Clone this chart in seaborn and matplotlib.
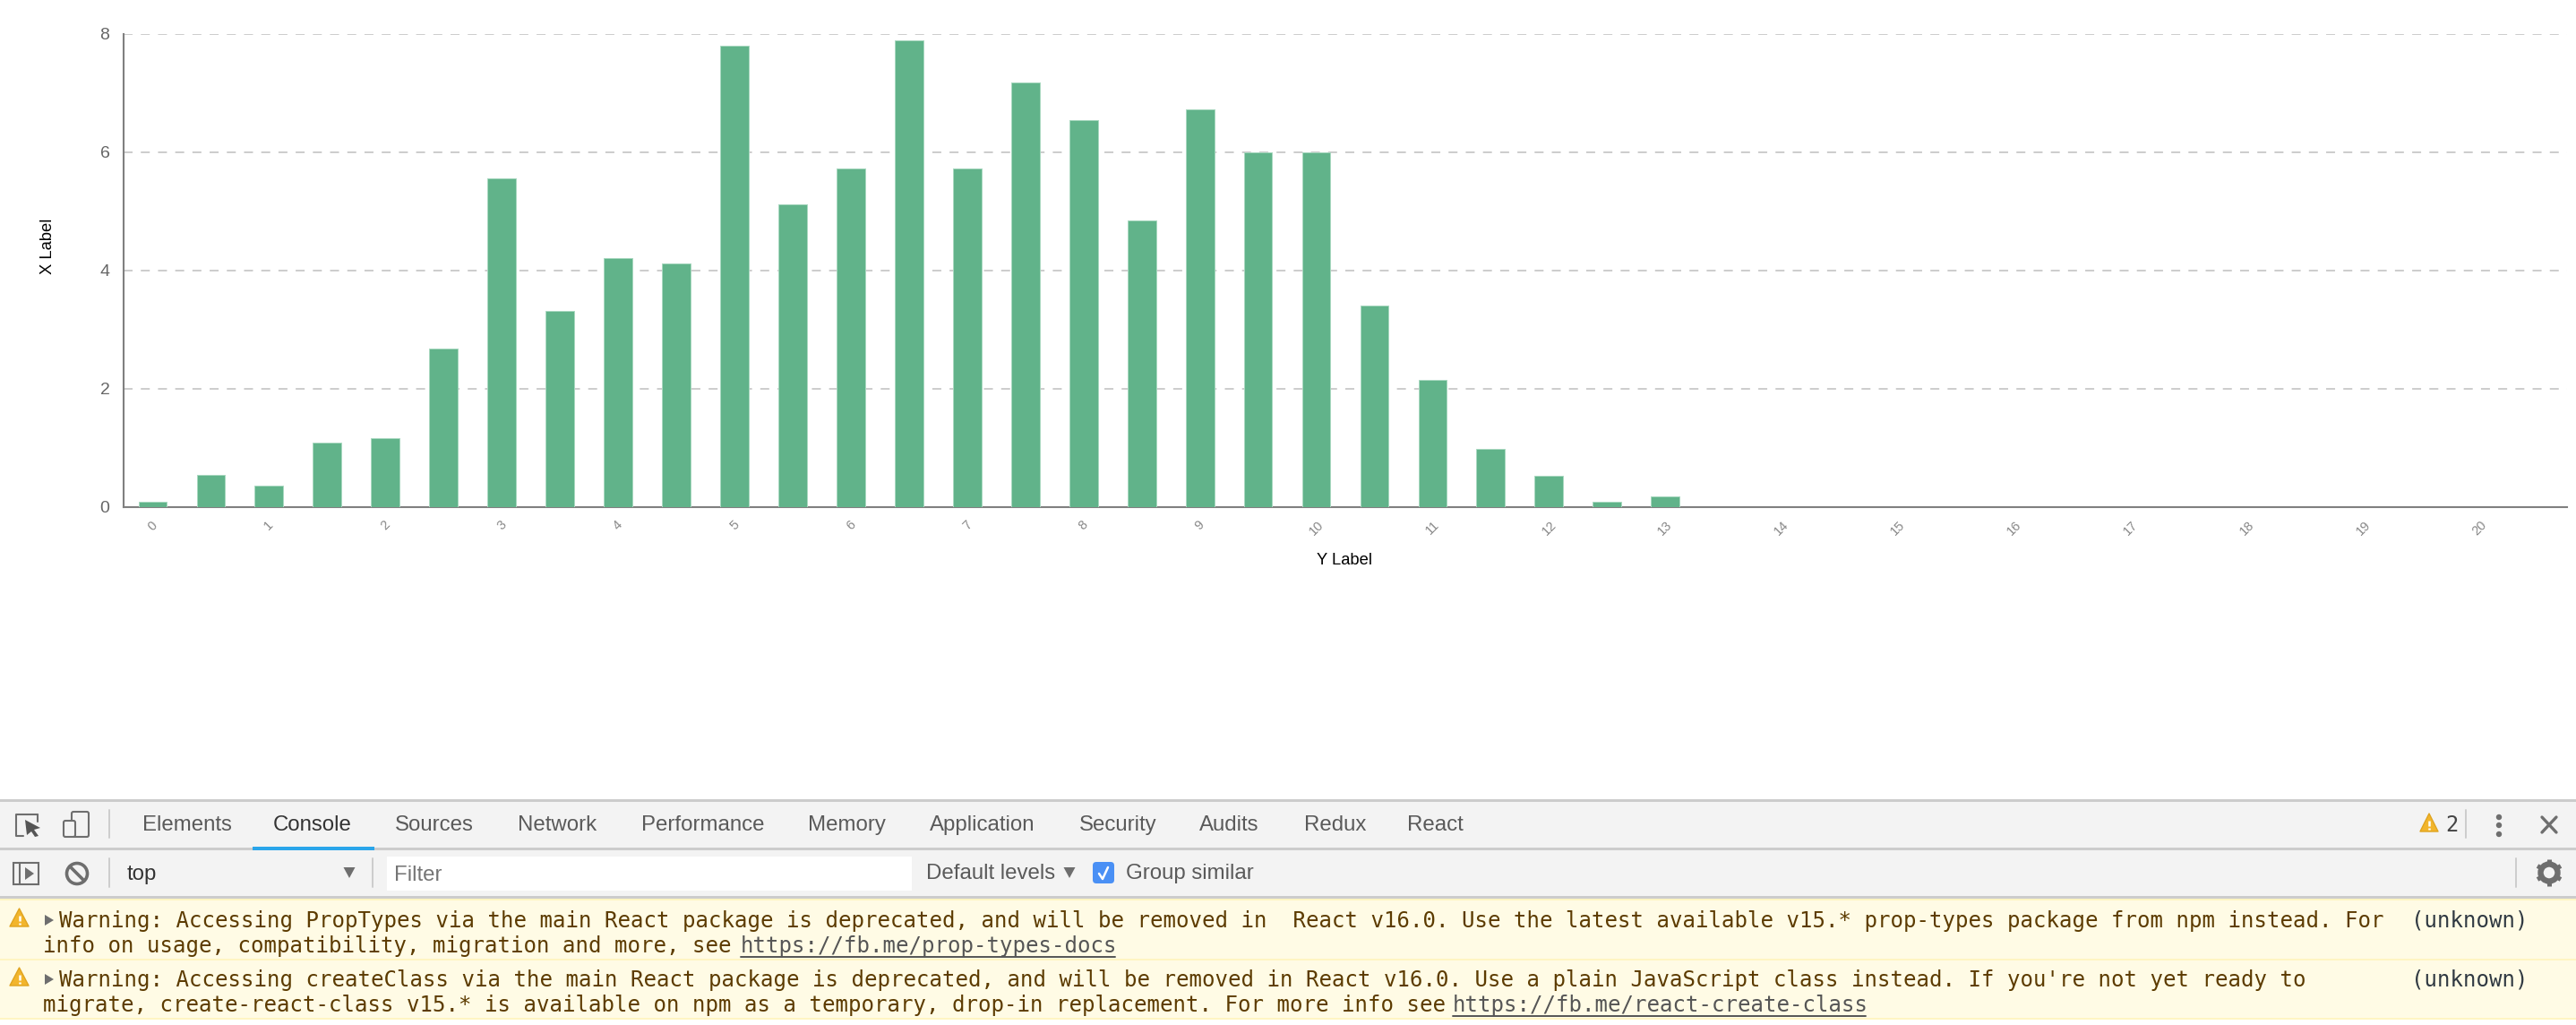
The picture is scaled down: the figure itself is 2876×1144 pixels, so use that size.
import numpy as np
import pandas as pd
import matplotlib
matplotlib.use("Agg")
import matplotlib.pyplot as plt
from matplotlib.patches import Rectangle, Polygon, Circle, FancyBboxPatch
import seaborn as sns

W, H = 2876, 1144
DPI = 100

categories = [f"{i/2:g}" for i in range(42)]
values = [0.09, 0.54, 0.36, 1.08, 1.16, 2.68, 5.55, 3.32, 4.21, 4.12, 7.80, 5.11, 5.73, 7.89,
          5.73, 7.17, 6.54, 4.84, 6.72, 6.00, 6.00, 3.40, 2.15, 0.98, 0.53, 0.09, 0.18,
          0, 0, 0, 0, 0, 0, 0, 0, 0, 0, 0, 0, 0, 0, 0]
tick_labels = [str(i) for i in range(21)]
y_ticks = [0, 2, 4, 6, 8]

tabs = [("Elements", 159), ("Console", 305), ("Sources", 441), ("Network", 578), ("Performance", 716),
        ("Memory", 902), ("Application", 1038), ("Security", 1205), ("Audits", 1339), ("Redux", 1456),
        ("React", 1571)]
console_lines = [
    ("Warning: Accessing PropTypes via the main React package is deprecated, and will be removed in  React v16.0. Use the latest available v15.* prop-types package from npm instead. For", 66, 1028),
    ("info on usage, compatibility, migration and more, see ", 48, 1056),
    ("Warning: Accessing createClass via the main React package is deprecated, and will be removed in React v16.0. Use a plain JavaScript class instead. If you're not yet ready to", 66, 1094),
    ("migrate, create-react-class v15.* is available on npm as a temporary, drop-in replacement. For more info see ", 48, 1122),
]
links = [("https://fb.me/prop-types-docs", 827), ("https://fb.me/react-create-class", 1622)]

sns.set_style("white")
plt.rcParams["font.family"] = ["Liberation Sans", "DejaVu Sans"]

fig = plt.figure(figsize=(W / DPI, H / DPI), dpi=DPI, facecolor="white")
ax_left, ax_right, ax_top, ax_bot = 138, 2866, 37.7, 565.7
ax = fig.add_axes([ax_left / W, 1 - ax_bot / H, (ax_right - ax_left) / W, (ax_bot - ax_top) / H])

df = pd.DataFrame({"x": categories, "y": values})
sns.barplot(data=df, x="x", y="y", order=categories, color="#61b38a", saturation=1, width=0.49,
            edgecolor="#a9d8c0", linewidth=0.7, ax=ax, zorder=3)
ax.set_xlim(-0.5, 41.5)
ax.set_ylim(0, 8)
ax.set_yticks(y_ticks)
ax.set_xticks(range(0, 42, 2))
ax.set_xticklabels(tick_labels, rotation=45, ha="center", fontsize=10.5, color="#888888")
ax.tick_params(axis="x", length=6.5, width=1.4, color="#808080", pad=3)
ax.tick_params(axis="y", length=7.2, width=1.4, color="#808080", pad=4, labelsize=14, labelcolor="#666666")
ax.set_xlabel("")
ax.set_ylabel("")
ax.yaxis.grid(True, color="#cccccc", lw=1.4, linestyle=(0, (5.14, 4.74)))
ax.xaxis.grid(False)
ax.set_axisbelow(True)
for s in ["top", "right"]:
    ax.spines[s].set_visible(False)
for s in ["left", "bottom"]:
    ax.spines[s].set_color("#808080")
    ax.spines[s].set_linewidth(1.5)

# overlay in pixel coordinates for axis titles and the browser panel
ov = fig.add_axes([0, 0, 1, 1], facecolor="none")
ov.set_xlim(0, W)
ov.set_ylim(H, 0)
ov.axis("off")

ov.text(53, 275, "X Label", rotation=90, ha="center", va="center", fontsize=13.2, color="black")
ov.text(1501, 626, "Y Label", ha="center", va="center", fontsize=13.2, color="black")

def rect(x0, y0, x1, y1, c, z=1):
    ov.add_patch(Rectangle((x0, y0), x1 - x0, y1 - y0, facecolor=c, edgecolor="none", zorder=z))

def warn(x0, x1, y0, y1):
    ov.add_patch(Polygon([[(x0 + x1) / 2, y0], [x1, y1], [x0, y1]], closed=True, facecolor="#f2b52c",
                         edgecolor="#e0a420", lw=1, joinstyle="round", zorder=3))
    cx = (x0 + x1) / 2
    ov.plot([cx, cx], [y0 + (y1 - y0) * .38, y0 + (y1 - y0) * .72], color="white", lw=1.8, zorder=4, solid_capstyle="butt")
    ov.plot([cx, cx], [y0 + (y1 - y0) * .80, y0 + (y1 - y0) * .90], color="white", lw=1.8, zorder=4, solid_capstyle="butt")

# panel backgrounds
rect(0, 892, W, 1001, "#f3f3f3")
rect(0, 892, W, 894.5, "#cccccc", 2)
rect(0, 946, W, 948.5, "#cccccc", 2)
rect(0, 1000, W, 1002.5, "#cccccc", 2)
rect(0, 1003, W, 1137, "#fffbe5")
rect(0, 1003, W, 1005, "#fff5c2", 2)
rect(0, 1070, W, 1072, "#fff5c2", 2)
rect(0, 1136, W, 1138, "#fff5c2", 2)
rect(282, 945, 418, 948.5, "#2aa5ea", 3)
rect(432, 956, 1018, 994, "white", 2)

# separators
for x, y0, y1 in [(122, 904, 935), (122, 958, 990), (416, 958, 990), (2753, 904, 935), (2809, 958, 990)]:
    ov.plot([x, x], [y0, y1], color="#cccccc", lw=1.4, zorder=3)

# tabs
for name, x in tabs:
    ov.text(x, 921, name, ha="left", va="center", fontsize=17.3,
            color="#333333" if name == "Console" else "#5a5a5a", zorder=4)

# toolbar text
ov.text(142, 976, "top", ha="left", va="center", fontsize=17.3, color="#333333", zorder=4)
ov.text(440, 977, "Filter", ha="left", va="center", fontsize=17.3, color="#757575", zorder=4)
ov.text(1034, 975, "Default levels", ha="left", va="center", fontsize=17.3, color="#5a5a5a", zorder=4)
ov.text(1257, 975, "Group similar", ha="left", va="center", fontsize=17.3, color="#5a5a5a", zorder=4)
for cx in (390, 1194):
    ov.add_patch(Polygon([[cx - 6.5, 968], [cx + 6.5, 968], [cx, 980]], closed=True, facecolor="#6e6e6e", edgecolor="none", zorder=4))

# checkbox
ov.add_patch(FancyBboxPatch((1222, 964), 20, 20, boxstyle="round,pad=2,rounding_size=4", facecolor="#4a90f5", edgecolor="none", zorder=4))
ov.plot([1227, 1231, 1237], [975, 981, 968], color="white", lw=1.8, zorder=5)

# inspect icon
ic = "#6e6e6e"
ov.plot([30, 18, 18, 26], [909, 909, 933, 933], color=ic, lw=1.5, zorder=4)
ov.plot([42, 42], [909, 917], color=ic, lw=1.5, zorder=4)
ov.plot([30, 42], [909, 909], color=ic, lw=1.5, zorder=4)
ov.add_patch(Polygon([[28, 915], [45, 924], [38, 926], [43, 933], [39, 934], [35, 928], [30, 932]], closed=True, facecolor="#555555", edgecolor="none", zorder=5))
# device icon
ov.add_patch(FancyBboxPatch((80, 906), 19, 28, boxstyle="round,pad=0,rounding_size=2", facecolor="none", edgecolor=ic, lw=1.5, zorder=4))
ov.add_patch(FancyBboxPatch((71, 916), 13, 18, boxstyle="round,pad=0,rounding_size=2", facecolor="#f3f3f3", edgecolor=ic, lw=1.5, zorder=5))
# sidebar toggle
ov.add_patch(Rectangle((15, 963), 28, 24, facecolor="none", edgecolor=ic, lw=1.5, zorder=4))
ov.plot([22, 22], [963, 987], color=ic, lw=1.5, zorder=4)
ov.add_patch(Polygon([[28, 968], [38, 975], [28, 982]], closed=True, facecolor=ic, edgecolor="none", zorder=4))
# clear icon
ov.add_patch(Circle((86, 975), 11.5, facecolor="none", edgecolor=ic, lw=2.6, zorder=4))
ov.plot([78, 94], [967, 983], color=ic, lw=2.6, zorder=4)

# right-hand icons
warn(2702, 2722, 908, 928)
ov.text(2730, 921, "2", ha="left", va="center", fontsize=17, color="#444444", family="DejaVu Sans Mono", zorder=4)
for y in (912, 921, 931):
    ov.add_patch(Circle((2790, y), 3.2, facecolor=ic, edgecolor="none", zorder=4))
ov.plot([2838, 2854], [912, 929], color=ic, lw=2.4, zorder=4)
ov.plot([2854, 2838], [912, 929], color=ic, lw=2.4, zorder=4)
# gear
ov.add_patch(Circle((2846, 974), 9.5, facecolor="none", edgecolor=ic, lw=4.6, zorder=4))
for a in np.deg2rad(np.arange(0, 360, 60) + 30):
    ov.plot([2846 + 11 * np.cos(a), 2846 + 15 * np.cos(a)], [974 + 11 * np.sin(a), 974 + 15 * np.sin(a)],
            color=ic, lw=3.6, zorder=4, solid_capstyle="butt")

# console
mono = "DejaVu Sans Mono"
txt = "#5c3b00"
for s, x, y in console_lines:
    ov.text(x, y, s, ha="left", va="center", fontsize=17.25, family=mono, color=txt, zorder=4)
for (s, x, y), (link, x0) in zip([console_lines[1], console_lines[3]], links):
    ov.text(x0, y, link, ha="left", va="center", fontsize=17.25, family=mono, color="#555555", zorder=4)
    ov.plot([x0, x0 + len(link) * 14.42], [y + 12, y + 12], color="#555555", lw=1.4, zorder=4)
for y in (1028, 1094):
    ov.text(2692, y, "(unknown)", ha="left", va="center", fontsize=17.25, family=mono, color="#303942", zorder=4)
    warn(11, 32, y - 14, y + 6)
    ov.add_patch(Polygon([[50, y - 7], [60, y - 1], [50, y + 5]], closed=True, facecolor="#6e6e6e", edgecolor="none", zorder=4))

fig.savefig("out.png", dpi=DPI, facecolor="white")
